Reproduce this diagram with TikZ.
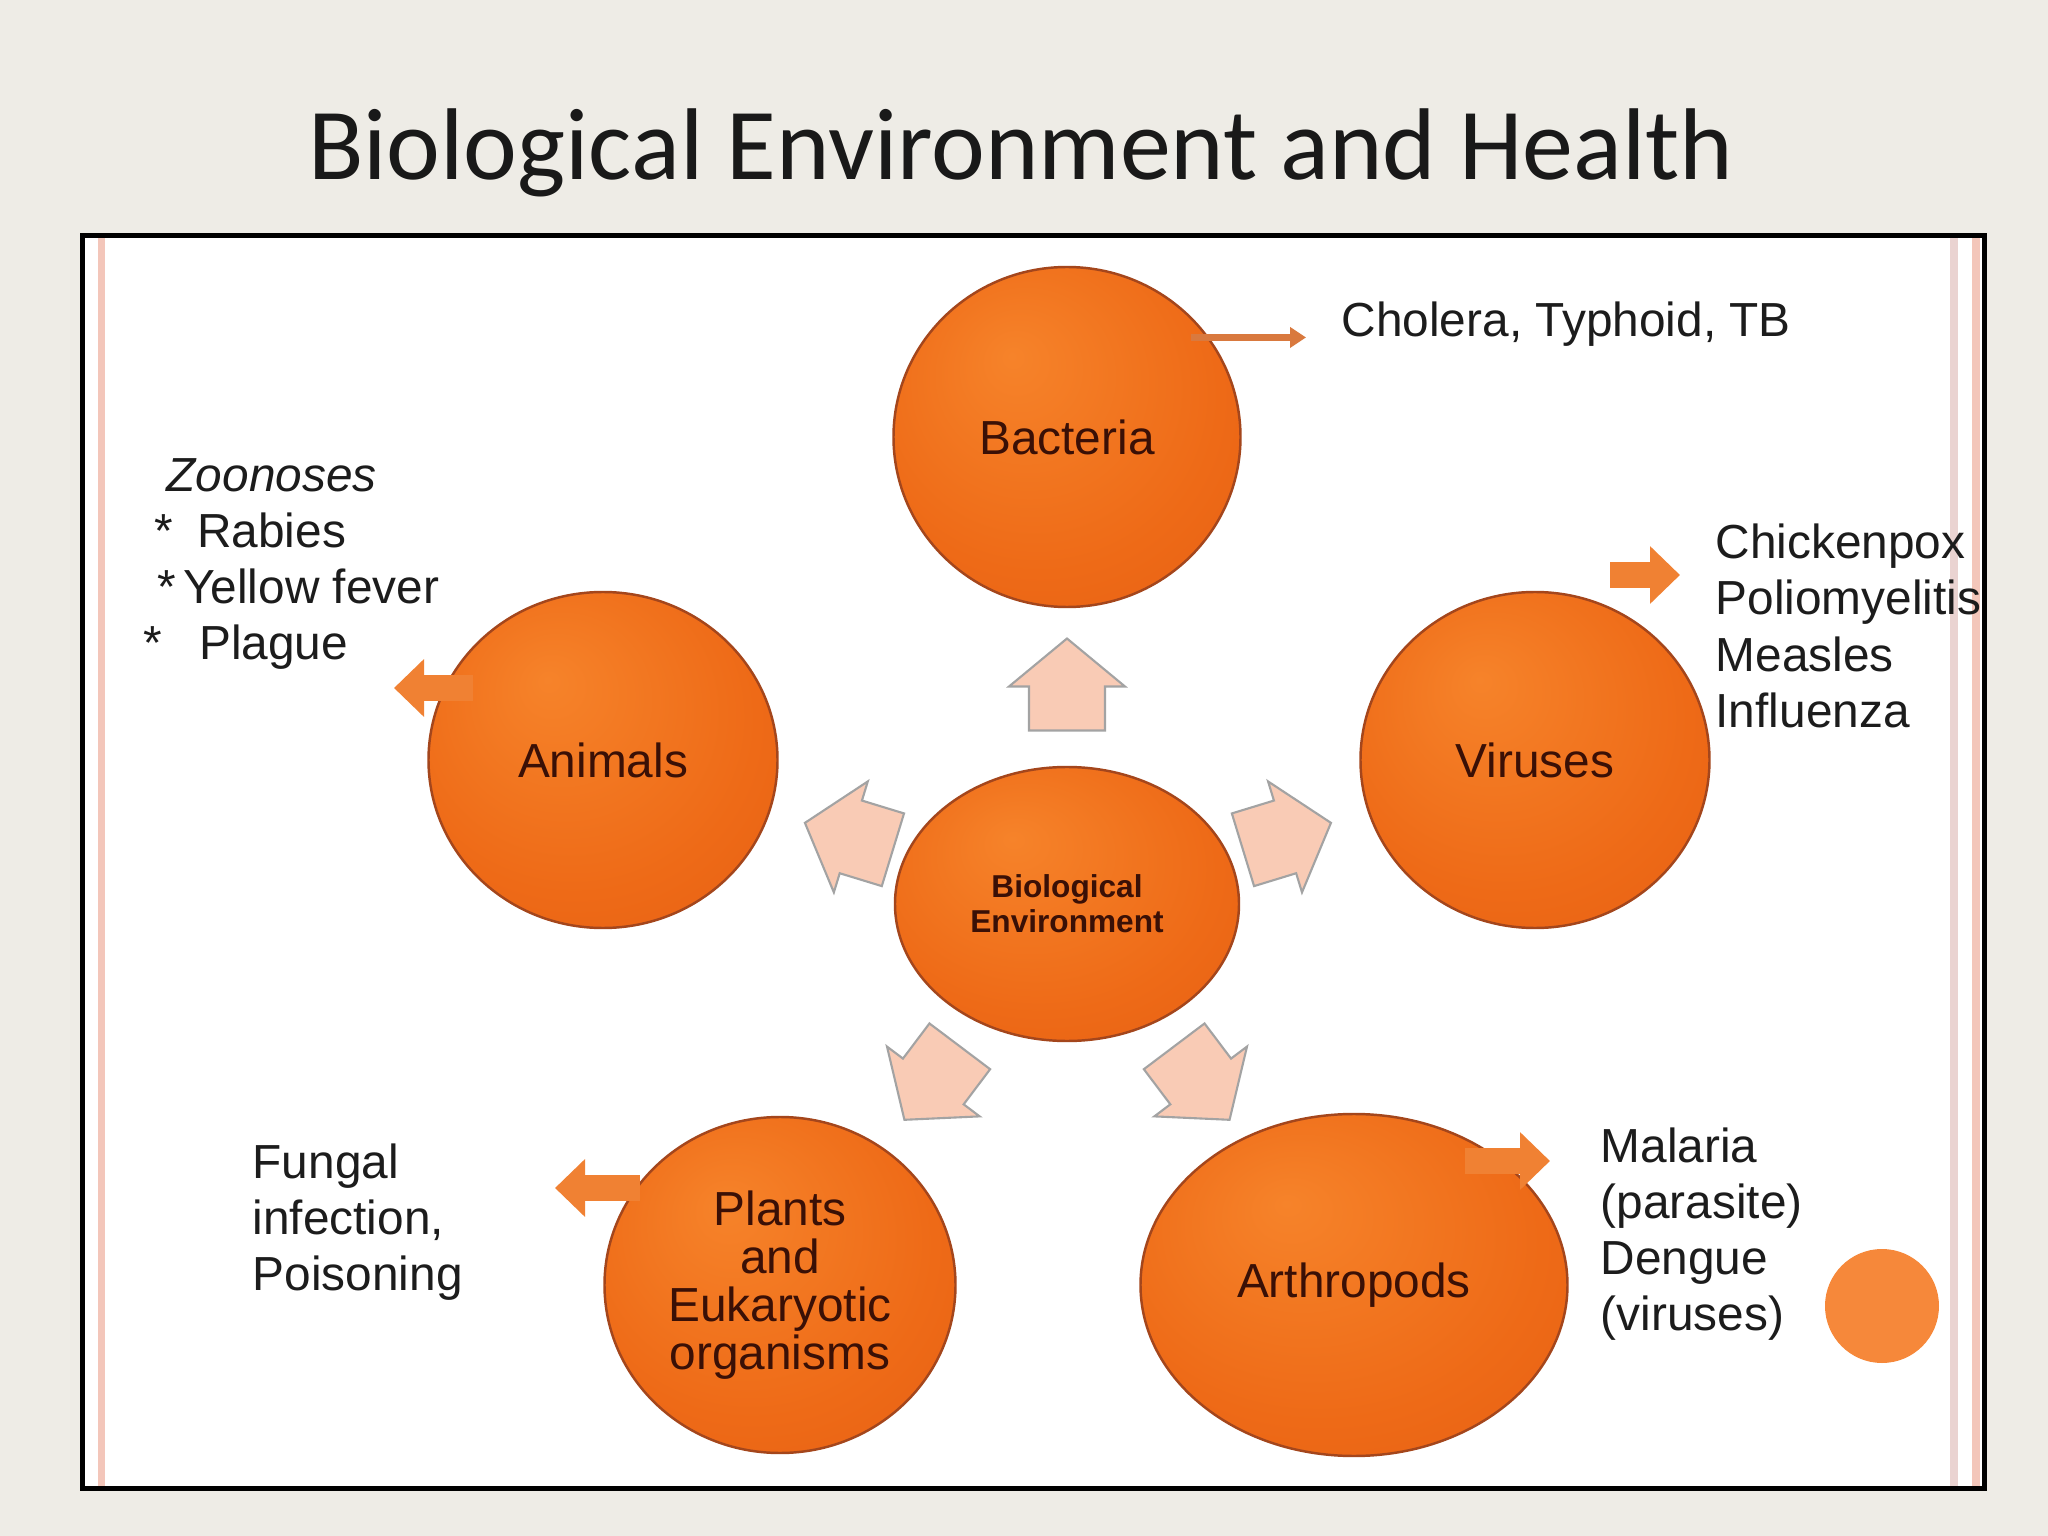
\documentclass[tikz,border=0pt]{standalone}
\usepackage{fontspec}
\setmainfont{Liberation Sans}
\newfontfamily\titlefont{Carlito}
\usetikzlibrary{shapes.geometric,arrows.meta,calc}

\definecolor{pagebg}{HTML}{EEECE6}
\definecolor{stripepink}{HTML}{F3C6BA}
\definecolor{stripegray}{HTML}{EAD3D1}
\definecolor{orgA}{HTML}{F6832A}
\definecolor{orgB}{HTML}{EE6A17}
\definecolor{orgC}{HTML}{E35C12}
\definecolor{orgD}{HTML}{CC4E12}
\definecolor{orgedge}{HTML}{A4461C}
\definecolor{labeltext}{HTML}{3A1006}
\definecolor{sidetext}{HTML}{1C1C1C}
\definecolor{peach}{HTML}{F9CBB5}
\definecolor{peachedge}{HTML}{A3A3A3}
\definecolor{arrorange}{HTML}{F08133}
\definecolor{thinorange}{HTML}{D9793E}
\definecolor{dotorange}{HTML}{F6883A}

\pgfdeclareradialshading{orgshade}{\pgfpoint{-8bp}{12bp}}{color(0bp)=(orgA); color(26bp)=(orgB); color(46bp)=(orgC); color(52bp)=(orgD)}

\tikzset{
  orgnode/.style={ellipse, draw=orgedge, line width=0.7pt, shade, shading=orgshade,
    text=labeltext, align=center, inner sep=0pt, font=\fontsize{13.6}{13.6}\selectfont},
  sidenote/.style={anchor=west, align=left, inner sep=0pt, text=sidetext,
    font=\fontsize{13.6}{16}\selectfont},
  blockarr/.style={arrorange, line width=0.26cm, -{Triangle[width=0.56cm,length=0.30cm]}},
  thinarr/.style={thinorange, line width=0.07cm, -{Triangle[width=0.2cm,length=0.16cm]}},
  palearrow/.pic={
    \filldraw[fill=peach, draw=peachedge, line width=0.6pt]
      (-0.38,-0.46) -- (0.38,-0.46) -- (0.38,-0.02) -- (0.58,-0.02)
      -- (0,0.46) -- (-0.58,-0.02) -- (-0.38,-0.02) -- cycle;
  }
}

\begin{document}
\begin{tikzpicture}
    % Slide background, frame and stripes
  \fill[pagebg] (0,0) rectangle (20.48,-15.36);
  \fill[white] (0.82,-2.36) rectangle (19.84,-14.88);
  \fill[stripepink] (0.98,-2.38) rectangle (1.05,-14.86);
  \fill[stripegray] (19.50,-2.38) rectangle (19.58,-14.86);
  \fill[stripepink] (19.72,-2.38) rectangle (19.80,-14.86);
  \draw[line width=0.05cm] (0.82,-2.36) rectangle (19.84,-14.88);

    % Title
  \node[anchor=base, text=black!90, font=\titlefont\fontsize{29}{34}\selectfont] (title)
    at (10.21,-1.80) {Biological Environment and Health};

    % Circles
  \node[orgnode, minimum width=3.44cm, minimum height=2.74cm,
    font=\bfseries\fontsize{9}{10}\selectfont] (env) at (10.67,-9.04) {Biological\\Environment};
  \node[orgnode, minimum width=3.47cm, minimum height=3.40cm] (bact) at (10.67,-4.37) {Bacteria};
  \node[orgnode, minimum width=3.49cm, minimum height=3.36cm] (anim) at (6.03,-7.60) {Animals};
  \node[orgnode, minimum width=3.49cm, minimum height=3.36cm] (vir) at (15.35,-7.60) {Viruses};
  \node[orgnode, minimum width=3.51cm, minimum height=3.36cm] (plant) at (7.80,-12.85)
    {Plants\\and\\Eukaryotic\\organisms};
  \node[orgnode, minimum width=4.27cm, minimum height=3.42cm] (arth) at (13.54,-12.85) {Arthropods};
  \node[circle, fill=dotorange, minimum width=1.14cm, inner sep=0pt] (dot) at (18.82,-13.06) {};

    % Pale arrows from the centre
  \foreach \tgt/\ang in {bact/0, anim/73, vir/-73, plant/143, arth/217}
    \pic[rotate=\ang] at ($(env)!0.47!(\tgt)$) {palearrow};

    % Diseases
  \node[sidenote] (chol) at (13.41,-3.24) {Cholera, Typhoid, TB};
  \node[sidenote] (zoo) at (1.43,-5.64)
    {\hspace{0.23cm}\textit{Zoonoses}\\\hspace{0.11cm}*\hspace{0.24cm}Rabies\\
     \hspace{0.14cm}*\hspace{0.07cm}Yellow fever\\*\hspace{0.37cm}Plague};
  \node[sidenote] (vlist) at (17.15,-6.26) {Chickenpox\\Poliomyelitis\\Measles\\Influenza};
  \node[sidenote] (fung) at (2.52,-12.22) {Fungal\\infection,\\Poisoning};
  \node[sidenote] (mal) at (16.00,-12.34) {Malaria\\(parasite)\\Dengue\\(viruses)};

    % Arrows to the diseases
  \coordinate (vstart) at (16.10,-5.75);
  \coordinate (astart) at (4.73,-6.88);
  \coordinate (atip) at (3.94,-6.88);
  \coordinate (pstart) at (6.40,-11.88);
  \coordinate (ptip) at (5.55,-11.88);
  \coordinate (mstart) at (14.65,-11.61);
  \draw[thinarr, shorten <=-0.18cm, shorten >=0.35cm] (bact.35) -- (bact.35 -| chol.west);
  \draw[blockarr, shorten >=0.35cm] (vstart) -- (vstart -| vlist.west);
  \draw[blockarr] (astart) -- (atip);
  \draw[blockarr] (pstart) -- (ptip);
  \draw[blockarr, shorten >=0.50cm] (mstart) -- (mstart -| mal.west);
\end{tikzpicture}
\end{document}
